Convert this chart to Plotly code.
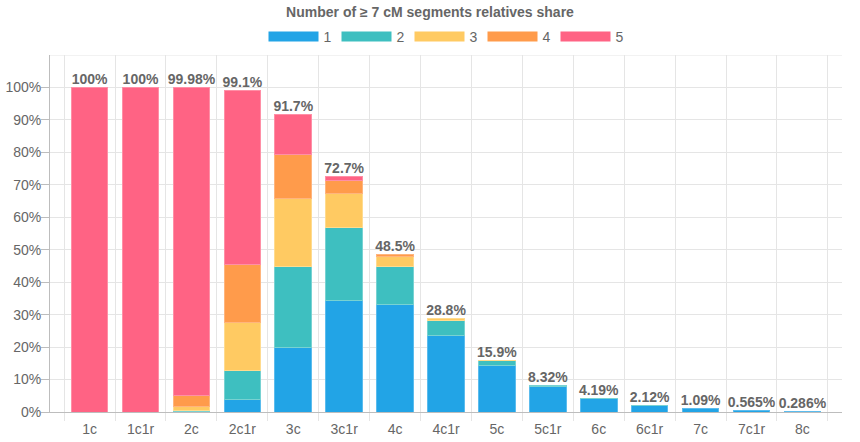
import plotly.graph_objects as go

categories = ["1c", "1c1r", "2c", "2c1r", "3c", "3c1r", "4c", "4c1r", "5c", "5c1r",
              "6c", "6c1r", "7c", "7c1r", "8c"]
series_names = ["1", "2", "3", "4", "5"]
seg1 = [0, 0, 0.05, 3.9, 19.9, 34.5, 33.1, 23.5, 14.3, 7.9, 4.1, 2.1, 1.09, 0.565, 0.286]
seg2 = [0, 0, 0.5, 9.0, 24.8, 22.5, 11.6, 4.6, 1.5, 0.42, 0.09, 0.02, 0, 0, 0]
seg3 = [0, 0, 1.3, 14.8, 21.2, 10.4, 3.1, 0.7, 0.1, 0, 0, 0, 0, 0, 0]
seg4 = [0, 0, 3.3, 17.6, 13.5, 3.9, 0.7, 0, 0, 0, 0, 0, 0, 0, 0]
seg5 = [100, 100, 94.83, 53.8, 12.3, 1.4, 0, 0, 0, 0, 0, 0, 0, 0, 0]
totals = [100, 100, 99.98, 99.1, 91.7, 72.7, 48.5, 28.8, 15.9, 8.32, 4.19, 2.12, 1.09, 0.565, 0.286]
y_ticks = [0, 10, 20, 30, 40, 50, 60, 70, 80, 90, 100]

fills = ["#22A4E6", "#3EBFC0", "#FFCA62", "#FF9B4B", "#FF6384"]
borders = ["#5BBCEE", "#78D2D2", "#FFDB8F", "#FFB57D", "#FF8FA6"]

FONT = "Liberation Sans, Arial, sans-serif"
fig = go.Figure()
for name, vals, fc, bc in zip(series_names, [seg1, seg2, seg3, seg4, seg5], fills, borders):
    fig.add_trace(go.Bar(x=categories, y=[v if v else None for v in vals], name=name,
                         showlegend=False, legendgroup=name,
                         marker=dict(color=fc, line=dict(color=bc, width=1))))
for name, fc in zip(series_names, fills):
    fig.add_trace(go.Scatter(x=[None], y=[None], mode="lines", name=name, legendgroup=name,
                             line=dict(color=fc, width=12), hoverinfo="skip"))

fig.add_trace(go.Scatter(x=categories, y=totals, mode="text",
                         text=[f"{v:g}%" for v in totals],
                         textposition="top center",
                         textfont=dict(family=FONT, size=14, color="#666666", weight="bold"),
                         showlegend=False, hoverinfo="skip", cliponaxis=False))

fig.update_layout(
    barmode="stack",
    bargap=0.28,
    width=860, height=442,
    margin=dict(l=50, r=18, t=55, b=30, autoexpand=False),
    paper_bgcolor="white", plot_bgcolor="white",
    font=dict(family=FONT, size=14, color="#666666"),
    title=dict(text="<b>Number of ≥ 7 cM segments relatives share</b>",
               x=0.5, xanchor="center", y=1 - 12 / 442, yanchor="middle",
               font=dict(family=FONT, size=14, color="#666666")),
    legend=dict(orientation="h", x=0.5, xanchor="center", yref="container",
                y=1 - 37 / 442, yanchor="middle", font=dict(size=14, color="#666666"),
                traceorder="normal", itemwidth=50),
    showlegend=True,
)
fig.update_xaxes(type="category", tickson="boundaries", showgrid=True, automargin=False,
                 gridcolor="#E5E5E5", ticks="outside", ticklen=8, tickcolor="#E5E5E5",
                 showline=True, linecolor="#BDBDBD", mirror=False, ticklabelstandoff=4,
                 tickfont=dict(size=14, color="#666666"))
fig.update_yaxes(range=[0, 110], tickvals=y_ticks, ticktext=[f"{t}%" for t in y_ticks],
                 showgrid=True, gridcolor="#E5E5E5", ticks="outside", ticklen=8, automargin=False,
                 tickcolor="#BDBDBD", showline=True, linecolor="#BDBDBD", ticklabelstandoff=-3,
                 zeroline=False, tickfont=dict(size=14, color="#666666"))
fig.add_hline(y=110, line=dict(color="#E5E5E5", width=1), layer="below")
fig.write_html("out.html")
